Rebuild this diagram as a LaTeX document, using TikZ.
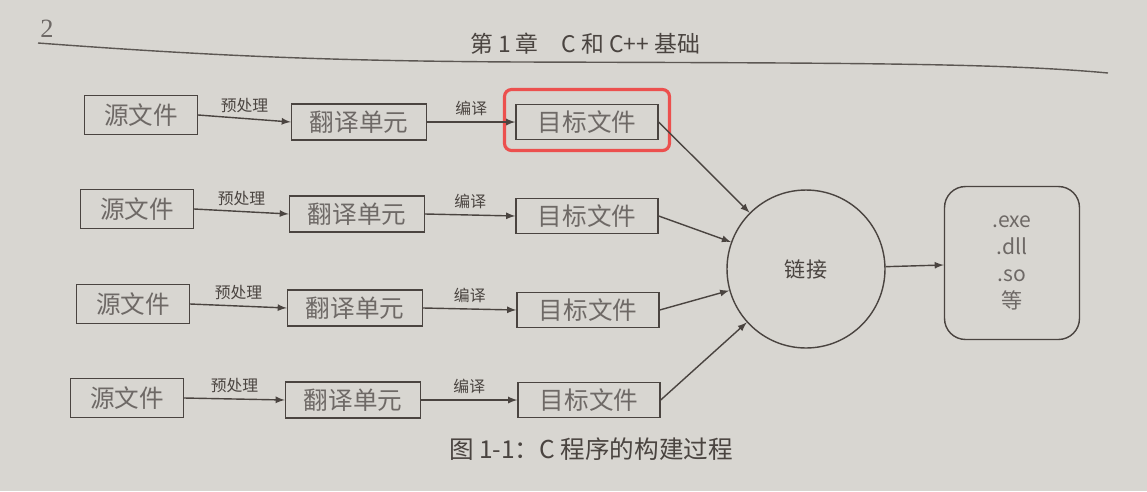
\documentclass[tikz,border=0pt]{standalone}
\usepackage{fontspec}
\setmainfont{Noto Sans CJK SC}
\newfontfamily\pagenum{Liberation Serif}
\definecolor{paper}{RGB}{216,214,209}
\definecolor{ink}{RGB}{74,68,64}
\definecolor{hilite}{RGB}{236,80,78}
\tikzset{
  srcbox/.style={draw=ink,thick,text=ink!80,minimum width=2.26cm,minimum height=0.78cm,inner sep=0pt,font=\fontsize{14}{16}\selectfont},
  unitbox/.style={srcbox,minimum width=2.7cm,minimum height=0.72cm},
  objbox/.style={srcbox,minimum width=2.84cm,minimum height=0.7cm},
  steplabel/.style={midway,above,text=ink,inner sep=3pt,font=\fontsize{9}{10}\selectfont},
}
\begin{document}
\begin{tikzpicture}[x=0.02cm,y=-0.02cm,>=latex]
\fill[paper] (0,0) rectangle (1147,491) ;
\useasboundingbox (0,0) rectangle (1147,491) ;
% page header
\node[text=ink!80,font=\pagenum\fontsize{15}{16}\selectfont] (pg) at (47,29) {2} ;
\node[text=ink,font=\fontsize{13}{14}\selectfont] (chap) at (585,44) {第 1 章\quad C 和 C++ 基础} ;
\draw[ink!90,thick] (38,43) .. controls (200,55) and (320,61) .. (520,62) .. controls (850,63) and (1000,63) .. (1108,73) ;
% row 1
\node[srcbox] (s1) at (141,115) {源文件} ;
\node[unitbox] (u1) at (359,122) {翻译单元} ;
\node[objbox] (o1) at (587,122) {目标文件} ;
\node[draw=hilite,line width=1.8pt,rounded corners=4pt,minimum width=3.3cm,minimum height=1.22cm] (hl) at (587,120) {} ;
% row 2
\node[srcbox] (s2) at (137,209) {源文件} ;
\node[unitbox] (u2) at (357,214) {翻译单元} ;
\node[objbox] (o2) at (587,216) {目标文件} ;
% row 3
\node[srcbox] (s3) at (133,304) {源文件} ;
\node[unitbox] (u3) at (355,308) {翻译单元} ;
\node[objbox] (o3) at (588,310) {目标文件} ;
% row 4
\node[srcbox] (s4) at (127,398) {源文件} ;
\node[unitbox] (u4) at (353,400) {翻译单元} ;
\node[objbox] (o4) at (589,400) {目标文件} ;
% link and output
\node[circle,draw=ink,thick,minimum size=3.16cm,text=ink,font=\fontsize{12}{14}\selectfont] (link) at (806,269) {链接} ;
\node[draw=ink,thick,rounded corners=0.42cm,minimum width=2.7cm,minimum height=3.06cm,align=center,text=ink!80,font=\fontsize{12}{15.3}\selectfont] (out) at (1012,263) {.exe\\.dll\\.so\\等} ;
% arrows
\draw[->,ink,thick] (s1.east) -- (u1.west) node[steplabel] {预处理} ;
\draw[->,ink,thick] (u1.east) -- (o1.west) node[steplabel] {编译} ;
\draw[->,ink,thick] (s2.east) -- (u2.west) node[steplabel] {预处理} ;
\draw[->,ink,thick] (u2.east) -- (o2.west) node[steplabel] {编译} ;
\draw[->,ink,thick] (s3.east) -- (u3.west) node[steplabel] {预处理} ;
\draw[->,ink,thick] (u3.east) -- (o3.west) node[steplabel] {编译} ;
\draw[->,ink,thick] (s4.east) -- (u4.west) node[steplabel] {预处理} ;
\draw[->,ink,thick] (u4.east) -- (o4.west) node[steplabel] {编译} ;
\draw[->,ink,thick] (o1.east) -- (link) ;
\draw[->,ink,thick] (o2.east) -- (link) ;
\draw[->,ink,thick] (o3.east) -- (link) ;
\draw[->,ink,thick] (o4.east) -- (link) ;
\draw[->,ink,thick] (link) -- (out) ;
% caption
\node[text=ink,font=\fontsize{14}{16}\selectfont] (cap) at (591,449) {图 1-1：C 程序的构建过程} ;
\end{tikzpicture}
\end{document}
